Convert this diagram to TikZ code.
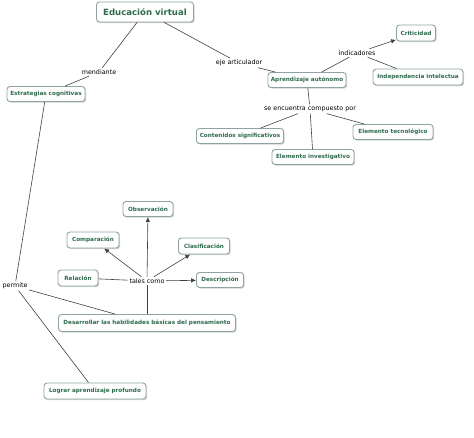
\documentclass[tikz,border=0pt]{standalone}
\usepackage{fontspec}
\setmainfont{DejaVu Sans}
\usetikzlibrary{shadows,arrows.meta}
\definecolor{cmtext}{HTML}{2E6B4E}
\definecolor{cmborder}{HTML}{8FA3A3}
\tikzset{
  concept/.style={draw=cmborder, line width=0.9bp, fill=white, rounded corners=3bp,
    text=cmtext, font=\fontsize{5.7}{6}\selectfont\bfseries, inner sep=1bp,
    drop shadow={shadow xshift=1.2bp, shadow yshift=-1.2bp, opacity=0.35, fill=gray}},
  linkword/.style={font=\fontsize{6.4}{7}\selectfont, text=black, inner sep=1.5bp, fill=white},
  conn/.style={draw=black!75, line width=0.6bp},
  arr/.style={conn, -{Latex[length=5bp,width=4.5bp]}}
}
\begin{document}
\begin{tikzpicture}[x=1bp,y=-1bp]
\useasboundingbox (0,0) rectangle (474,438);
% concepts
\node[concept, minimum width=97bp, minimum height=20bp, font=\fontsize{8.6}{9}\selectfont\bfseries] (ev) at (145,12) {Educación virtual};
\node[concept, minimum width=78bp, minimum height=15bp] (ec) at (46,94) {Estrategias cognitivas};
\node[concept, minimum width=78bp, minimum height=15bp] (aa) at (307,80) {Aprendizaje autónomo};
\node[concept, minimum width=39bp, minimum height=16bp] (cr) at (416,33) {Criticidad};
\node[concept, minimum width=90bp, minimum height=16bp] (ii) at (418,77) {Independencia intelectua};
\node[concept, minimum width=87bp, minimum height=15bp] (cs) at (240,136) {Contenidos significativos};
\node[concept, minimum width=80bp, minimum height=15bp] (et) at (393,132) {Elemento tecnológico};
\node[concept, minimum width=82bp, minimum height=15bp] (ei) at (313,157) {Elemento investigativo};
\node[concept, minimum width=50bp, minimum height=15bp] (ob) at (148,209) {Observación};
\node[concept, minimum width=52bp, minimum height=16bp] (co) at (93,240) {Comparación};
\node[concept, minimum width=51bp, minimum height=16bp] (cl) at (204,246) {Clasificación};
\node[concept, minimum width=40bp, minimum height=16bp] (re) at (78,278) {Relación};
\node[concept, minimum width=47bp, minimum height=15bp] (de) at (220,280) {Descripción};
\node[concept, minimum width=177bp, minimum height=17bp] (dh) at (147,323) {Desarrollar las habilidades básicas del pensamiento};
\node[concept, minimum width=102bp, minimum height=16bp] (la) at (95,391) {Lograr aprendizaje profundo};
% linking words
\node[linkword] (me) at (99,72) {mendiante};
\node[linkword] (ej) at (239,63) {eje articulador};
\node[linkword] (in) at (357,53) {indicadores};
\node[linkword] (se) at (310,109) {se encuentra compuesto por};
\node[linkword] (pe) at (15,286) {permite};
\node[linkword] (tc) at (147,281) {tales como};
% connectors
\draw[conn] (ev) -- (me);
\draw[conn] (me) -- (ec);
\draw[conn] (ev) -- (ej);
\draw[conn] (ej) -- (aa);
\draw[conn] (aa) -- (in);
\draw[arr] (in) -- (cr);
\draw[conn] (in) -- (ii);
\draw[conn] (aa) -- (se);
\draw[conn] (se) -- (cs);
\draw[conn] (se) -- (et);
\draw[conn] (se) -- (ei);
\draw[conn] (ec) -- (pe);
\draw[conn] (pe) -- (dh);
\draw[conn] (pe) -- (la);
\draw[conn] (dh) -- (tc);
\draw[arr] (tc) -- (ob);
\draw[arr] (tc) -- (co);
\draw[arr] (tc) -- (cl);
\draw[arr] (tc) -- (de);
\draw[conn] (tc) -- (re);
\end{tikzpicture}
\end{document}
